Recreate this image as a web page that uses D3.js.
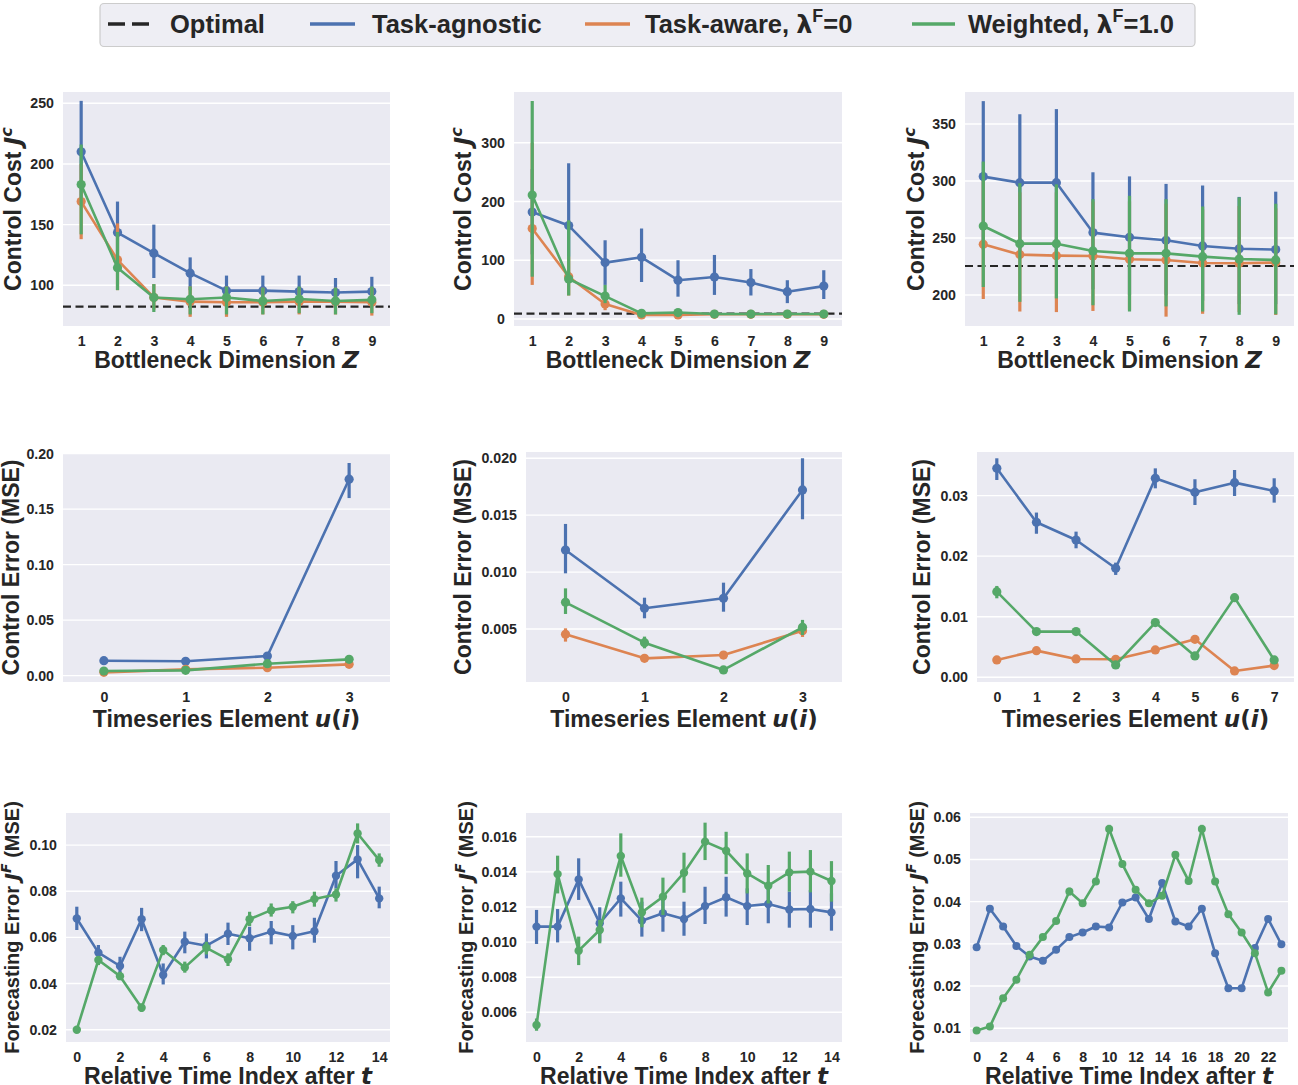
<!DOCTYPE html>
<html><head><meta charset="utf-8">
<script src="https://cdn.jsdelivr.net/npm/d3@7/dist/d3.min.js"></script>
<style>
body{margin:0;background:#fff}
svg text{font-family:"Liberation Sans",Arial,sans-serif;font-weight:bold;fill:#262626}
</style>
</head><body>
<svg id="c" width="1298" height="1085"></svg>
<script>
// ---------------- DATA ----------------
const seriesNames = ["Optimal", "Task-agnostic", "Task-aware, ", "Weighted, "];
const bottleneckDims = [1,2,3,4,5,6,7,8,9];
const elements4 = [0,1,2,3];
const elements8 = [0,1,2,3,4,5,6,7];
const steps15 = d3.range(15);
const steps24 = d3.range(24);

// Row 1 : control cost vs bottleneck dim
const costA_opt = 82.4;
const costA_agn = [210, 143.5, 126.5, 110, 95.6, 95.6, 94.8, 94, 94.8];
const costA_agnCI = [[172,252],[120,169],[106,150],[96,123],[84,108],[84,108],[84,108],[84,106],[84,107]];
const costA_awa = [169, 121, 90, 86.5, 86, 86, 86.5, 86.5, 86];
const costA_awaCI = [[138,200],[96,151],[80,101],[74,99],[74,99],[76,98],[76,98],[76,98],[75,98]];
const costA_wei = [183, 114.5, 90, 88.5, 90, 87, 88.7, 87, 88];
const costA_weiCI = [[142,216],[96,144],[78,101],[76,99],[76,99],[76,98],[77,99],[76,98],[77,99]];

const costB_opt = 9;
const costB_agn = [182, 159, 96, 105, 66, 71.5, 62, 46.5, 56];
const costB_agnCI = [[110,255],[106,265],[58,134],[63,154],[38,100],[41,109],[40,85],[27,66],[34,83]];
const costB_awa = [154, 72, 25.5, 7, 7, 8, 8, 8, 8];
const costB_awaCI = [[58,300],[40,106],[15,35],[4,11],[4,11],[5,11],[5,11],[5,11],[5,11]];
const costB_wei = [211, 68, 39, 9.6, 11, 8.5, 8.5, 8.5, 8.5];
const costB_weiCI = [[72,371],[40,168],[27,58],[6,14],[7,15],[6,11],[6,11],[6,11],[6,11]];

const costC_opt = 225.4;
const costC_agn = [303.8, 298.5, 298.5, 254.7, 250.6, 248, 243, 240.6, 239.8];
const costC_agnCI = [[240,370],[238,358.5],[238,363],[205,307.6],[200,304],[200,297.4],[195,296],[192,286],[192,290.6]];
const costC_awa = [244.4, 235.4, 234.5, 234.2, 231.3, 230.7, 228, 227.8, 228.4];
const costC_awaCI = [[196.5,300],[185.5,290],[185,290],[186,282],[187,282],[181,280],[183.5,275],[185,278],[182.5,276]];
const costC_wei = [260.5, 245, 245, 238.6, 236.5, 236.5, 233.6, 231.5, 230.7];
const costC_weiCI = [[207,317],[194,298],[197,297],[191,284],[185.5,287],[190,284],[185.5,277.6],[182.6,285.6],[183,280]];

// Row 2 : control error per timeseries element
const errA_agn = [0.0135, 0.013, 0.0177, 0.177];
const errA_agnCI = [[0.012,0.015],[0.0118,0.0142],[0.0158,0.0196],[0.16,0.1916]];
const errA_awa = [0.003, 0.0057, 0.0072, 0.0102];
const errA_awaCI = [[0.0022,0.0038],[0.0049,0.0065],[0.0064,0.008],[0.0094,0.011]];
const errA_wei = [0.0042, 0.0048, 0.0108, 0.0147];
const errA_weiCI = [[0.0032,0.0052],[0.0038,0.0058],[0.0098,0.0118],[0.0137,0.0157]];

const errB_agn = [0.01194, 0.00682, 0.0077, 0.01722];
const errB_agnCI = [[0.00989,0.01423],[0.00594,0.00775],[0.00652,0.00907],[0.01464,0.0200]];
const errB_awa = [0.00453, 0.00242, 0.00271, 0.00485];
const errB_awaCI = [[0.00389,0.00506],[0.0022,0.0026],[0.0025,0.0029],[0.0043,0.0053]];
const errB_wei = [0.00734, 0.0038, 0.0014, 0.00515];
const errB_weiCI = [[0.00632,0.00857],[0.0033,0.00433],[0.0012,0.0016],[0.00447,0.0058]];

const errC_agn = [0.0345, 0.0256, 0.02267, 0.018, 0.03286, 0.03055, 0.03214, 0.03077];
const errC_agnCI = [[0.03258,0.03616],[0.0237,0.0272],[0.0213,0.02405],[0.0169,0.01893],[0.0312,0.0345],[0.02845,0.0327],[0.02994,0.03423],[0.02884,0.03286]];
const errC_awa = [0.00286, 0.0044, 0.00303, 0.00297, 0.00451, 0.00627, 0.00105, 0.00193];
const errC_awaCI = [[0.0026,0.0031],[0.0041,0.0047],[0.0028,0.0033],[0.0027,0.0032],[0.0042,0.0048],[0.0059,0.0066],[0.0008,0.0013],[0.0017,0.0022]];
const errC_wei = [0.01414, 0.00754, 0.00754, 0.00204, 0.00903, 0.00352, 0.01315, 0.00286];
const errC_weiCI = [[0.01304,0.01508],[0.0070,0.0081],[0.0070,0.0081],[0.0016,0.0025],[0.0085,0.0096],[0.0031,0.004],[0.0126,0.0137],[0.0024,0.0033]];

// Row 3 : forecasting error per relative time index
const fcA_agn = [0.0682,0.0534,0.0476,0.0679,0.0437,0.0581,0.0564,0.0616,0.0596,0.0625,0.0606,0.0627,0.0867,0.0938,0.0769];
const fcA_agnCI = [[0.0632,0.0733],[0.0502,0.0567],[0.0444,0.0516],[0.0627,0.0728],[0.0396,0.0487],[0.0531,0.0625],[0.0509,0.0617],[0.0567,0.0664],[0.0542,0.0646],[0.0570,0.0671],[0.0548,0.0653],[0.0577,0.0685],[0.0812,0.0931],[0.0856,0.1000],[0.0726,0.0820]];
const fcA_wei = [0.0200,0.0502,0.0432,0.0295,0.0545,0.0470,0.0555,0.0505,0.0679,0.0718,0.0733,0.0766,0.0786,0.1050,0.0935];
const fcA_weiCI = [[0.0195,0.0205],[0.0480,0.0519],[0.0415,0.0451],[0.0278,0.0314],[0.0523,0.0567],[0.0447,0.0495],[0.0526,0.0581],[0.0476,0.0531],[0.0649,0.0711],[0.0690,0.0747],[0.0704,0.0757],[0.0733,0.0798],[0.0755,0.0812],[0.1007,0.1094],[0.0906,0.0964]];

const fcB_agn = [0.01088,0.01088,0.01357,0.01107,0.01249,0.01122,0.01164,0.01131,0.01205,0.01255,0.01205,0.01217,0.01186,0.01188,0.01169];
const fcB_agnCI = [[0.00989,0.01183],[0.00998,0.01188],[0.0124,0.01477],[0.01002,0.01198],[0.01145,0.01344],[0.01031,0.0123],[0.01059,0.01268],[0.01036,0.0123],[0.01103,0.01315],[0.01145,0.01372],[0.01097,0.01306],[0.01107,0.01325],[0.01082,0.01287],[0.01082,0.01296],[0.01065,0.01277]];
const fcB_wei = [0.00528,0.01387,0.00951,0.01069,0.0149,0.01169,0.01258,0.01395,0.01572,0.0152,0.01391,0.01321,0.01397,0.01401,0.01348];
const fcB_weiCI = [[0.00495,0.00565],[0.01277,0.01492],[0.00869,0.01031],[0.00993,0.01126],[0.01372,0.01619],[0.01084,0.01253],[0.01154,0.01367],[0.01281,0.01509],[0.01467,0.0168],[0.01387,0.01628],[0.01277,0.01505],[0.0122,0.01439],[0.01287,0.01515],[0.01283,0.01524],[0.0123,0.01461]];

const fcC_agn = [0.0292,0.0383,0.0341,0.0295,0.027,0.026,0.0286,0.0316,0.0327,0.0341,0.0339,0.0398,0.041,0.0359,0.0444,0.0353,0.0341,0.0383,0.0278,0.0195,0.0195,0.029,0.0359,0.0299];
const fcC_agnCI = [[0.0285,0.0299],[0.0376,0.039],[0.0334,0.0348],[0.0288,0.0302],[0.0263,0.0277],[0.0253,0.0267],[0.0279,0.0293],[0.0309,0.0323],[0.032,0.0334],[0.0334,0.0348],[0.0332,0.0346],[0.0391,0.0405],[0.0402,0.0418],[0.0352,0.0366],[0.0436,0.0452],[0.0346,0.036],[0.0334,0.0348],[0.0376,0.039],[0.0271,0.0285],[0.0188,0.0202],[0.0188,0.0202],[0.0283,0.0297],[0.0352,0.0366],[0.0292,0.0306]];
const fcC_wei = [0.0095,0.0104,0.0171,0.0215,0.0274,0.0316,0.0354,0.0424,0.0396,0.0448,0.0572,0.0489,0.0428,0.0396,0.0414,0.0511,0.0449,0.0572,0.0448,0.037,0.0327,0.0278,0.0185,0.0236];
const fcC_weiCI = [[0.0089,0.0101],[0.0098,0.011],[0.0165,0.0177],[0.0209,0.0221],[0.0268,0.028],[0.031,0.0322],[0.0347,0.0361],[0.0415,0.0433],[0.0389,0.0403],[0.044,0.0456],[0.0562,0.0582],[0.0481,0.0497],[0.042,0.0436],[0.0389,0.0403],[0.0406,0.0422],[0.0502,0.052],[0.0441,0.0457],[0.0562,0.0582],[0.044,0.0456],[0.0363,0.0377],[0.032,0.0334],[0.0271,0.0285],[0.0179,0.0191],[0.023,0.0242]];

// tick labels
const costA_ticks = [100,150,200,250];
const costB_ticks = [0,100,200,300];
const costC_ticks = [200,250,300,350];
const errA_ticks = [0,0.05,0.10,0.15,0.20];
const errB_ticks = [0.005,0.010,0.015,0.020];
const errC_ticks = [0,0.01,0.02,0.03];
const fcA_ticks = [0.02,0.04,0.06,0.08,0.10];
const fcB_ticks = [0.006,0.008,0.010,0.012,0.014,0.016];
const fcC_ticks = [0.01,0.02,0.03,0.04,0.05,0.06];
const evenSteps15 = [0,2,4,6,8,10,12,14];
const evenSteps24 = [0,2,4,6,8,10,12,14,16,18,20,22];

// ---------------- STYLE ----------------
const COL = {opt:"#262626", agn:"#4C72B0", awa:"#DD8452", wei:"#55A868"};
const MATH = '"DejaVu Sans",sans-serif';
const svg = d3.select("#c");

// parts: [text, style]; flags: i = math italic, m = math upright, s = superscript
function rich(sel, parts, size) {
  let sup = false;
  parts.forEach(p => {
    const t = sel.append("tspan").text(p[0]);
    const st = p[1];
    if (st.includes("i")) t.attr("font-style", "italic").attr("font-family", MATH);
    if (st.includes("m")) t.attr("font-family", MATH);
    if (st.includes("s")) {
      t.attr("font-size", size * 0.7).attr("dy", -size * 0.42);
      sup = true;
    } else if (sup) {
      t.attr("dy", size * 0.42);
      sup = false;
    }
  });
}

function panel(o) {
  const [l, t, r, b] = o.box;
  const g = svg.append("g");
  const x = d3.scalePoint().domain(o.cats).range([l, r]).padding(0.5);
  const y = d3.scaleLinear().domain(o.ydom).range([b, t]);
  g.append("rect").attr("x", l).attr("y", t).attr("width", r - l).attr("height", b - t).attr("fill", "#EAEAF2");
  g.selectAll(null).data(o.yticks).enter().append("line")
    .attr("x1", l).attr("x2", r).attr("y1", d => y(d)).attr("y2", d => y(d))
    .attr("stroke", "#fff").attr("stroke-width", 1.4);
  const ya = g.append("g").attr("transform", `translate(${l},0)`)
    .call(d3.axisLeft(y).tickValues(o.yticks).tickSize(0).tickPadding(9).tickFormat(d3.format(o.yfmt)));
  const xa = g.append("g").attr("transform", `translate(0,${b})`)
    .call(d3.axisBottom(x).tickValues(o.xticks).tickSize(0).tickPadding(9.5));
  [ya, xa].forEach(a => {
    a.select(".domain").remove();
    a.attr("font-family", null).attr("font-size", null);
    a.selectAll("text").attr("font-size", 14.2).attr("fill", "#262626");
  });
  if (o.opt !== undefined) {
    g.append("line").attr("x1", l).attr("x2", r).attr("y1", y(o.opt)).attr("y2", y(o.opt))
      .attr("stroke", COL.opt).attr("stroke-width", 2.2).attr("stroke-dasharray", "8,4.5");
  }
  const rad = o.r || 4.6;
  o.series.forEach(s => {
    const sg = g.append("g");
    sg.selectAll(null).data(s.ci).enter().append("line")
      .attr("x1", (d, i) => x(o.cats[i])).attr("x2", (d, i) => x(o.cats[i]))
      .attr("y1", d => y(d[0])).attr("y2", d => y(d[1]))
      .attr("stroke", s.color).attr("stroke-width", 3.2);
    sg.append("path").datum(s.mean)
      .attr("d", d3.line().x((d, i) => x(o.cats[i])).y(d => y(d)))
      .attr("fill", "none").attr("stroke", s.color).attr("stroke-width", 2.6).attr("stroke-linejoin", "round");
    sg.selectAll(null).data(s.mean).enter().append("circle")
      .attr("cx", (d, i) => x(o.cats[i])).attr("cy", d => y(d)).attr("r", rad).attr("fill", s.color);
  });
  const xs = o.xlabSize || 23;
  const xl = g.append("text").attr("x", (l + r) / 2).attr("y", o.xlabY).attr("text-anchor", "middle").attr("font-size", xs);
  rich(xl, o.xlabel, xs);
  const ys = o.ylabSize || 23;
  const yl = g.append("text").attr("text-anchor", "middle").attr("font-size", ys)
    .attr("transform", `translate(${o.ylabX + ys * 0.36},${(t + b) / 2}) rotate(-90)`);
  rich(yl, o.ylabel, ys);
}

const xlab1 = [["Bottleneck Dimension ", ""], ["Z", "i"]];
const xlab2 = [["Timeseries Element ", ""], ["u", "i"], ["(", "m"], ["i", "i"], [")", "m"]];
const xlab3 = [["Relative Time Index after ", ""], ["t", "i"]];
const ylab1 = [["Control Cost ", ""], ["J", "i"], ["c", "si"]];
const ylab2 = [["Control Error (MSE)", ""]];
const ylab3 = [["Forecasting Error ", ""], ["J", "i"], ["F", "si"], [" (MSE)", ""]];

const S = (m, ci, c) => ({mean: m, ci: ci, color: c});

// Row 1
panel({box:[63,92,390,326], cats:bottleneckDims, xticks:bottleneckDims, ydom:[66.45,259.3], yticks:costA_ticks, yfmt:"d", opt:costA_opt,
  series:[S(costA_agn,costA_agnCI,COL.agn), S(costA_awa,costA_awaCI,COL.awa), S(costA_wei,costA_weiCI,COL.wei)],
  xlabel:xlab1, xlabY:368, ylabel:ylab1, ylabX:13});
panel({box:[514,92,842,326], cats:bottleneckDims, xticks:bottleneckDims, ydom:[-11.9,386.3], yticks:costB_ticks, yfmt:"d", opt:costB_opt,
  series:[S(costB_agn,costB_agnCI,COL.agn), S(costB_awa,costB_awaCI,COL.awa), S(costB_wei,costB_weiCI,COL.wei)],
  xlabel:xlab1, xlabY:368, ylabel:ylab1, ylabX:463});
panel({box:[965,92,1294,326], cats:bottleneckDims, xticks:bottleneckDims, ydom:[172.8,378], yticks:costC_ticks, yfmt:"d", opt:costC_opt,
  series:[S(costC_agn,costC_agnCI,COL.agn), S(costC_awa,costC_awaCI,COL.awa), S(costC_wei,costC_weiCI,COL.wei)],
  xlabel:xlab1, xlabY:368, ylabel:ylab1, ylabX:916});

// Row 2
panel({box:[63,453,390,682], cats:elements4, xticks:elements4, ydom:[-0.0057,0.2006], yticks:errA_ticks, yfmt:".2f",
  series:[S(errA_agn,errA_agnCI,COL.agn), S(errA_awa,errA_awaCI,COL.awa), S(errA_wei,errA_weiCI,COL.wei)],
  xlabel:xlab2, xlabY:727, ylabel:ylab2, ylabX:11});
panel({box:[526,452,842,682], cats:elements4, xticks:elements4, ydom:[0.000343,0.02055], yticks:errB_ticks, yfmt:".3f",
  series:[S(errB_agn,errB_agnCI,COL.agn), S(errB_awa,errB_awaCI,COL.awa), S(errB_wei,errB_weiCI,COL.wei)],
  xlabel:xlab2, xlabY:727, ylabel:ylab2, ylabX:463});
panel({box:[977,452,1294,682], cats:elements8, xticks:elements8, ydom:[-0.00078,0.0372], yticks:errC_ticks, yfmt:".2f",
  series:[S(errC_agn,errC_agnCI,COL.agn), S(errC_awa,errC_awaCI,COL.awa), S(errC_wei,errC_weiCI,COL.wei)],
  xlabel:xlab2, xlabY:727, ylabel:ylab2, ylabX:922});

// Row 3
panel({box:[66,813,390,1042], cats:steps15, xticks:evenSteps15, ydom:[0.01467,0.1139], yticks:fcA_ticks, yfmt:".2f", r:4.2,
  series:[S(fcA_agn,fcA_agnCI,COL.agn), S(fcA_wei,fcA_weiCI,COL.wei)],
  xlabel:xlab3, xlabY:1083.5, ylabel:ylab3, ylabX:12, ylabSize:20});
panel({box:[526,813,842,1042], cats:steps15, xticks:evenSteps15, ydom:[0.00431,0.01735], yticks:fcB_ticks, yfmt:".3f", r:4.2,
  series:[S(fcB_agn,fcB_agnCI,COL.agn), S(fcB_wei,fcB_weiCI,COL.wei)],
  xlabel:xlab3, xlabY:1083.5, ylabel:ylab3, ylabX:466, ylabSize:20});
panel({box:[970,813,1288,1042], cats:steps24, xticks:evenSteps24, ydom:[0.00675,0.061], yticks:fcC_ticks, yfmt:".2f", r:4,
  series:[S(fcC_agn,fcC_agnCI,COL.agn), S(fcC_wei,fcC_weiCI,COL.wei)],
  xlabel:xlab3, xlabY:1083.5, ylabel:ylab3, ylabX:917, ylabSize:20});

// ---------------- LEGEND ----------------
const lg = svg.append("g");
lg.append("rect").attr("x", 100).attr("y", 3.5).attr("width", 1095).attr("height", 43).attr("rx", 4)
  .attr("fill", "#EEEEF4").attr("stroke", "#CCCCCC").attr("stroke-width", 1.2);
const legendItems = [
  {x1:108, x2:150, tx:170, color:COL.opt, dash:"17,7", parts:[[seriesNames[0], ""]]},
  {x1:310, x2:355, tx:372, color:COL.agn, parts:[[seriesNames[1], ""]]},
  {x1:585, x2:630, tx:645, color:COL.awa, parts:[[seriesNames[2], ""], ["λ", "m"], ["F", "s"], ["=0", ""]]},
  {x1:912, x2:955, tx:968, color:COL.wei, parts:[[seriesNames[3], ""], ["λ", "m"], ["F", "s"], ["=1.0", ""]]}
];
legendItems.forEach(it => {
  lg.append("line").attr("x1", it.x1).attr("x2", it.x2).attr("y1", 24).attr("y2", 24)
    .attr("stroke", it.color).attr("stroke-width", 3.4).attr("stroke-dasharray", it.dash || null);
  const tx = lg.append("text").attr("x", it.tx).attr("y", 33).attr("font-size", 25.5);
  rich(tx, it.parts, 25.5);
});
</script>
</body></html>
